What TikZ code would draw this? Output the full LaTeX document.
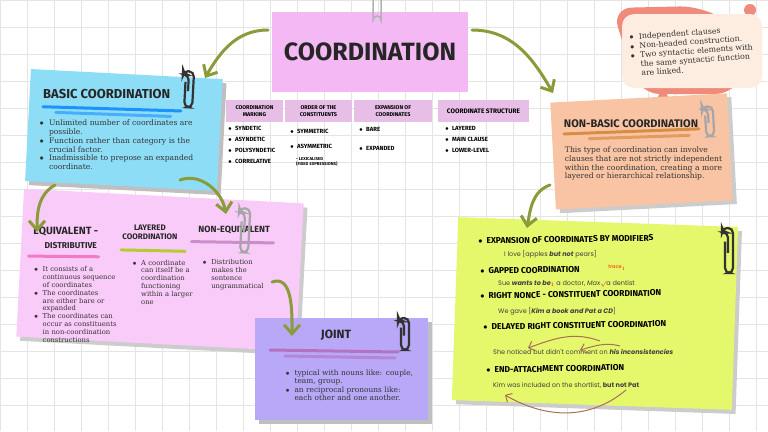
\documentclass[tikz,border=0pt]{standalone}
\usepackage{fontspec}
\setmainfont{DejaVu Serif}
\newfontfamily\hd{Fira Sans}
\newfontfamily\pop{Poppins}
\usetikzlibrary{arrows.meta}
\definecolor{gridc}{HTML}{E4E4E4}
\definecolor{titlec}{HTML}{F4B8F4}
\definecolor{bluec}{HTML}{8EDDF7}
\definecolor{pinkc}{HTML}{F9CBF8}
\definecolor{jointc}{HTML}{B8A8F7}
\definecolor{peachc}{HTML}{F9C4A3}
\definecolor{limec}{HTML}{E5F76B}
\definecolor{blobc}{HTML}{F08A7A}
\definecolor{creamc}{HTML}{FDEDE0}
\definecolor{arrc}{HTML}{8A9B3A}
\definecolor{headc}{HTML}{E6BEE6}
\definecolor{brownc}{HTML}{A8705A}
\newcommand\bitem[1]{{\leftskip=9pt\parindent=0pt\hyphenpenalty=10000\noindent\llap{$\bullet$\ \ }#1\par}}
\newcommand\pclip[4]{% x y height color
 \draw[#4, line width=2.2pt, rounded corners=5pt] (#1+6,#2+#3*0.55) -- (#1+6,#2+#3*0.1) -- (#1,#2+#3*0.1) -- (#1,#2) -- (#1+11,#2) -- (#1+11,#2+#3) -- (#1+3,#2+#3) -- (#1+3,#2+#3*0.3);
}
\tikzset{
 garrow/.style={draw=arrc, line width=3pt, line cap=round, -{Straight Barb[length=9pt,width=16pt,line width=3pt]}},
 heading/.style={font=\hd\bfseries, text=black!85},
 bodytxt/.style={font=\fontsize{7.2}{8}\selectfont, align=left, text=black!80},
 th/.style={fill=headc, minimum height=22pt, font=\hd\bfseries\fontsize{5.5}{6.5}\selectfont, align=center, inner sep=1pt},
 td/.style={font=\hd\bfseries\fontsize{6}{11}\selectfont, align=left, anchor=north west, inner sep=0pt},
 uline/.style={line width=3pt, line cap=round, opacity=.8},
 brarrow/.style={draw=brownc, line width=1pt, -{Straight Barb[length=5pt]}}
}
\begin{document}
\begin{tikzpicture}[x=1pt,y=-1pt]
\useasboundingbox (0,0) rectangle (768,431);
\fill[white] (0,0) rectangle (768,431);
\foreach \x in {0,27,...,768} \draw[gridc, line width=.6pt] (\x,0) -- (\x,431);
\foreach \y in {0,27,...,431} \draw[gridc, line width=.6pt] (0,\y) -- (768,\y);
% title
\fill[titlec] (272,12) rectangle (468,92);
\node[heading, font=\hd\bfseries\fontsize{25}{28}\selectfont] (title) at (370,52) {COORDINATION};
\draw[draw=gray!60, line width=1.5pt] (373,0) -- (373,20) arc[start angle=180,end angle=360,radius=4] -- (381,0);
% basic
\begin{scope}[rotate around={-3:(124,128)}]
\fill[black!25] (32,78) rectangle (224,190);
\fill[bluec] (28,74) rectangle (220,186);
\draw[blue!50!cyan, uline] (42,111) -- (180,108);
\draw[blue!50!cyan, uline, opacity=.5] (55,116) -- (170,114);
\node[heading, font=\hd\bfseries\fontsize{13}{16}\selectfont, anchor=west] (basic) at (38,98) {BASIC COORDINATION};
\node[bodytxt, anchor=north west, text width=172pt, font=\fontsize{7.6}{8.8}\selectfont] (basict) at (36,121) {\bitem{Unlimited number of coordinates are possible.}\bitem{Function rather than category is the crucial factor.}\bitem{Inadmissible to prepose an expanded coordinate.}};
\pclip{180}{68}{36}{black!80}
\end{scope}
% pink layer
\begin{scope}[rotate around={-3:(160,270)}]
\fill[black!20] (24,200) rectangle (304,348);
\fill[pinkc] (20,196) rectangle (300,344);
\node[heading, font=\hd\bfseries\fontsize{10.5}{12}\selectfont, anchor=west] (equiv) at (28,238) {EQUIVALENT -};
\node[heading, font=\hd\bfseries\fontsize{8.5}{10}\selectfont, anchor=west] (distr) at (40,252) {DISTRIBUTIVE};
\draw[magenta!60, uline] (28,263) -- (98,260);
\node[bodytxt, anchor=north west, text width=90pt, font=\fontsize{6.8}{7.8}\selectfont] (equivt) at (30,270) {\bitem{It consists of a continuous sequence of coordinates}\bitem{The coordinates are either bare or expanded}\bitem{The coordinates can occur as constituents in non-coordination constructions}};
\node[heading, font=\hd\bfseries\fontsize{8}{9.5}\selectfont, align=center] (layered) at (148,233) {LAYERED\\COORDINATION};
\draw[lime!60!olive, uline] (120,252) -- (184,250);
\node[bodytxt, anchor=north west, text width=64pt, font=\fontsize{6.8}{7.8}\selectfont] (layt) at (128,258) {\bitem{A coordinate can itself be a coordination functioning within a larger one}};
\node[heading, font=\hd\bfseries\fontsize{9}{11}\selectfont] (noneq) at (232,226) {NON-EQUIVALENT};
\draw[violet!50, uline] (190,240) -- (272,237);
\node[bodytxt, anchor=north west, text width=68pt, font=\fontsize{6.8}{7.8}\selectfont] (noneqt) at (198,254) {\bitem{Distribution makes the sentence ungrammatical}};
\pclip{236}{204}{44}{gray!70}
\end{scope}
% joint
\fill[black!25] (259,322) rectangle (432,424);
\fill[jointc] (255,318) rectangle (428,420);
\node[heading, font=\hd\bfseries\fontsize{12}{14}\selectfont] (joint) at (336,335) {JOINT};
\draw[violet!60, uline] (270,350) -- (398,352);
\draw[violet!60, uline, opacity=.5] (285,356) -- (395,358);
\node[bodytxt, anchor=north west, text width=130pt, font=\fontsize{7.4}{8.6}\selectfont] (jointt) at (282,366) {\bitem{typical with nouns like: couple, team, group.}\bitem{an reciprocal pronouns like: each other and one another.}};
\pclip{398}{318}{32}{black!80}
% table
\foreach \a/\b/\t in {226/283/{COORDINATION\\MARKING},285/352/{ORDER OF THE\\CONSTITUENTS},354/432/{EXPANSION OF\\COORDINATES},438/529/{\fontsize{6.5}{7}\selectfont COORDINATE STRUCTURE}}
  \node[th, minimum width=\b-\a] at ({(\a+\b)/2},111) {\t};
\node[td] (c1) at (228,126) {$\bullet$\; SYNDETIC\\$\bullet$\; ASYNDETIC\\$\bullet$\; POLYSYNDETIC\\$\bullet$\; CORRELATIVE};
\node[td] (c2) at (290,129) {$\bullet$\; SYMMETRIC\\[4pt]$\bullet$\; ASYMMETRIC};
\node[td, font=\hd\bfseries\fontsize{4.3}{5.5}\selectfont] (c2b) at (296,157) {- LEXICALISED\\(FIXED EXPRESSIONS)};
\node[td] (c3) at (359,127) {$\bullet$\; BARE\\[8pt]$\bullet$\; EXPANDED};
\node[td] (c4) at (445,126) {$\bullet$\; LAYERED\\$\bullet$\; MAIN CLAUSE\\$\bullet$\; LOWER-LEVEL};
% blob
\fill[blobc, rounded corners=20pt] (612,8) -- (700,6) -- (760,40) -- (735,94) -- (640,94) -- (625,50) -- cycle;
\fill[blobc] (750,10) circle (6);
\fill[blobc] (663,97) circle (5);
\fill[creamc, rounded corners=12pt] (622,14) rectangle (762,88);
\node[bodytxt, anchor=center, text width=122pt, font=\fontsize{7.8}{9.2}\selectfont, rotate=4] (blobt) at (692,51) {\bitem{Independent clauses}\bitem{Non-headed construction.}\bitem{Two syntactic elements with the same syntactic function are linked.}};
% nonbasic
\begin{scope}[rotate around={3:(640,152)}]
\fill[black!20] (557,102) rectangle (734,209);
\fill[peachc] (553,98) rectangle (730,205);
\draw[brown!70!orange, uline] (565,130) -- (700,132);
\draw[brown!70!orange, uline, opacity=.6] (590,136) -- (690,138);
\node[heading, font=\hd\bfseries\fontsize{11}{13}\selectfont, anchor=west] (nonbasic) at (562,120) {NON-BASIC COORDINATION};
\node[bodytxt, anchor=north west, text width=160pt, font=\fontsize{7.6}{8.8}\selectfont] (nbt) at (562,139) {This type of coordination can involve clauses that are not strictly independent within the coordination, creating a more layered or hierarchical relationship.};
\pclip{704}{110}{30}{gray!70}
\end{scope}
% green
\begin{scope}[rotate around={-2:(595,313)}]
\fill[black!20] (459,226) rectangle (739,409);
\fill[limec] (455,222) rectangle (735,405);
\end{scope}
\pclip{722}{228}{45}{black!80}
\tikzset{gh/.style={font=\hd\bfseries\fontsize{8.5}{10}\selectfont, anchor=west, inner sep=0pt},
 ge/.style={font=\pop\fontsize{6.5}{7}\selectfont, anchor=west, inner sep=0pt, text=black!75}}
\node[gh, rotate=1] (g1) at (478,241) {$\bullet$\ \ EXPANSION OF COORDINATES BY MODIFIERS};
\node[ge] (e1) at (504,254) {I love [apples \textbf{\itshape but not} pears]};
\node[gh, rotate=1] (g2) at (480,271) {$\bullet$\ \ GAPPED COORDINATION};
\node[ge] (e2) at (498,284) {Sue \textbf{\itshape wants to be}{\color{red}$_1$} a doctor, \textit{Max}{\color{red}$\surd$}a dentist};
\node[font=\pop\fontsize{5}{5}\selectfont, text=red!80!orange, inner sep=0pt] (trace) at (617,268) {trace$_1$};
\node[gh, rotate=1] (g3) at (480,296) {$\bullet$\ \ RIGHT NONCE - CONSTITUENT COORDINATION};
\node[ge] (e3) at (498,311) {We gave [\textbf{\itshape Kim a book and Pat a CD}]};
\node[gh, rotate=1] (g4) at (483,327) {$\bullet$\ \ DELAYED RIGHT CONSTITUENT COORDINATION};
\node[ge] (e4) at (493,352) {She noticed but didn't comment on \textbf{\itshape his inconsistencies}};
\node[gh, rotate=1] (g5) at (486,370) {$\bullet$\ \ END-ATTACHMENT COORDINATION};
\node[ge] (e5) at (493,385) {Kim was included on the shortlist, \textbf{but not Pat}};
\draw[brarrow] (600,341) to[out=160,in=20] (528,348);
\draw[brarrow] (620,346) to[out=165,in=15] (580,350);
\draw[brarrow] (626,390) to[out=-140,in=-30] (505,395);
% green arrows
\draw[garrow] (268,30) to[out=180,in=60] (205,78);
\draw[garrow] (472,30) to[out=0,in=120] (553,93);
\draw[garrow] (55,185) to[out=210,in=90] (37,232);
\draw[garrow] (180,180) to[out=20,in=100] (226,214);
\draw[garrow] (272,282) to[out=20,in=90] (292,336);
\draw[garrow] (550,185) to[out=200,in=80] (527,228);
\end{tikzpicture}
\end{document}
